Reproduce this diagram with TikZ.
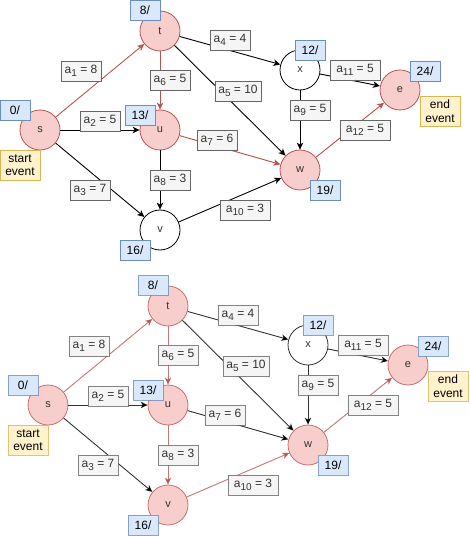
\documentclass[tikz,border=0pt]{standalone}
\usepackage{fontspec}
\setmainfont{Liberation Sans}
\usetikzlibrary{arrows.meta, positioning}

\definecolor{critfill}{HTML}{F8CECC}
\definecolor{critdraw}{HTML}{B85450}
\definecolor{tagfill}{HTML}{DAE8FC}
\definecolor{tagdraw}{HTML}{6C8EBF}
\definecolor{notefill}{HTML}{FFF2CC}
\definecolor{notedraw}{HTML}{D6B656}
\definecolor{wfill}{HTML}{F5F5F5}
\definecolor{wdraw}{HTML}{666666}
\definecolor{txt}{HTML}{333333}

\newcommand{\subidx}[1]{\raisebox{-3pt}{\fontsize{10}{10}\selectfont #1}}

\tikzset{
  event/.style={circle, draw=black, fill=white, minimum size=40pt, inner sep=0pt,
    line width=0.8pt, text=txt, font=\fontsize{11}{13}\selectfont},
  crit/.style={event, draw=critdraw, fill=critfill},
  tag/.style={rectangle, draw=tagdraw, fill=tagfill, minimum width=30pt, minimum height=20pt,
    inner sep=0pt, line width=0.8pt, text=black, font=\fontsize{12}{14}\selectfont},
  note/.style={tag, draw=notedraw, fill=notefill, minimum width=40pt, minimum height=30pt,
    align=center, font=\fontsize{12}{13.5}\selectfont},
  weight/.style={tag, draw=wdraw, fill=wfill, minimum width=40pt, text=txt},
  act/.style={-{Stealth[length=7pt, width=6.5pt, inset=2pt]}, line width=0.9pt},
  critact/.style={act, draw=critdraw},
}

\begin{document}
\begin{tikzpicture}[x=1pt, y=-1pt]
\useasboundingbox (0,0) rectangle (469,537);

% upper network
\begin{scope}[name prefix=up-]
  \node (s) [crit] at (40,130) {s};
  \node (t) [crit] at (160,31) {t};
  \node (u) [crit] at (160,130) {u};
  \node (v) [event] at (160,230) {v};
  \node (x) [event] at (300,70) {x};
  \node (w) [crit] at (300,170) {w};
  \node (e) [crit] at (400,90) {e};

  \path [act]
    (s) edge [critact] (t)
    (s) edge (u)
    (s) edge (v)
    (t) edge (x)
    (t) edge (w)
    (t) edge [critact] (u)
    (u) edge [critact] (w)
    (u) edge (v)
    (x) edge (w)
    (v) edge (w)
    (x) edge (e)
    (w) edge [critact] (e)
    ;

  \node (a1) [weight] at (81,71) {a\subidx{1} = 8};
  \node (a2) [weight] at (100,121) {a\subidx{2} = 5};
  \node (a3) [weight] at (90,190) {a\subidx{3} = 7};
  \node (a4) [weight] at (230,40) {a\subidx{4} = 4};
  \node (a5) [weight, minimum width=46pt] at (238,91) {a\subidx{5} = 10};
  \node (a6) [weight] at (170,80) {a\subidx{6} = 5};
  \node (a7) [weight] at (217,140) {a\subidx{7} = 6};
  \node (a8) [weight] at (170,180) {a\subidx{8} = 3};
  \node (a9) [weight] at (310,110) {a\subidx{9} = 5};
  \node (a10) [weight, minimum width=50pt] at (245,210) {a\subidx{10} = 3};
  \node (a11) [weight, minimum width=50pt] at (355,70) {a\subidx{11} = 5};
  \node (a12) [weight, minimum width=50pt] at (365,130) {a\subidx{12} = 5};

  \node (s-tag) [tag] at ([shift={(-25,-20)}]s) {0/};
  \node (t-tag) [tag] at ([shift={(-15,-21)}]t) {8/};
  \node (u-tag) [tag] at ([shift={(-20,-15)}]u) {13/};
  \node (v-tag) [tag] at ([shift={(-25,20)}]v) {16/};
  \node (x-tag) [tag] at ([shift={(10,-20)}]x) {12/};
  \node (e-tag) [tag] at ([shift={(25,-19)}]e) {24/};
  \node (w-tag) [tag] at ([shift={(25,20)}]w) {19/};
  \node (start) [note] at ([shift={(-20,35)}]s) {start\\event};
  \node (end) [note] at ([shift={(40,21)}]e) {end\\event};
\end{scope}

% lower network
\begin{scope}[shift={(8,275)}, name prefix=lo-, draw opacity=0.8]
  \node (s) [crit] at (40,130) {s};
  \node (t) [crit] at (160,31) {t};
  \node (u) [crit] at (160,130) {u};
  \node (v) [crit] at (160,230) {v};
  \node (x) [event] at (300,70) {x};
  \node (w) [crit] at (300,170) {w};
  \node (e) [crit] at (400,90) {e};

  \path [act]
    (s) edge [critact] (t)
    (s) edge (u)
    (s) edge (v)
    (t) edge (x)
    (t) edge (w)
    (t) edge [critact] (u)
    (u) edge (w)
    (u) edge [critact] (v)
    (x) edge (w)
    (v) edge [critact] (w)
    (x) edge (e)
    (w) edge [critact] (e)
    ;

  \node (a1) [weight] at (81,71) {a\subidx{1} = 8};
  \node (a2) [weight] at (100,121) {a\subidx{2} = 5};
  \node (a3) [weight] at (90,190) {a\subidx{3} = 7};
  \node (a4) [weight] at (230,40) {a\subidx{4} = 4};
  \node (a5) [weight, minimum width=46pt] at (238,91) {a\subidx{5} = 10};
  \node (a6) [weight] at (170,80) {a\subidx{6} = 5};
  \node (a7) [weight] at (217,140) {a\subidx{7} = 6};
  \node (a8) [weight] at (170,180) {a\subidx{8} = 3};
  \node (a9) [weight] at (310,110) {a\subidx{9} = 5};
  \node (a10) [weight, minimum width=50pt] at (245,210) {a\subidx{10} = 3};
  \node (a11) [weight, minimum width=50pt] at (355,70) {a\subidx{11} = 5};
  \node (a12) [weight, minimum width=50pt] at (365,130) {a\subidx{12} = 5};

  \node (s-tag) [tag] at ([shift={(-25,-20)}]s) {0/};
  \node (t-tag) [tag] at ([shift={(-15,-21)}]t) {8/};
  \node (u-tag) [tag] at ([shift={(-20,-15)}]u) {13/};
  \node (v-tag) [tag] at ([shift={(-25,20)}]v) {16/};
  \node (x-tag) [tag] at ([shift={(10,-20)}]x) {12/};
  \node (e-tag) [tag] at ([shift={(25,-19)}]e) {24/};
  \node (w-tag) [tag] at ([shift={(25,20)}]w) {19/};
  \node (start) [note] at ([shift={(-20,35)}]s) {start\\event};
  \node (end) [note] at ([shift={(40,21)}]e) {end\\event};
\end{scope}
\end{tikzpicture}
\end{document}
